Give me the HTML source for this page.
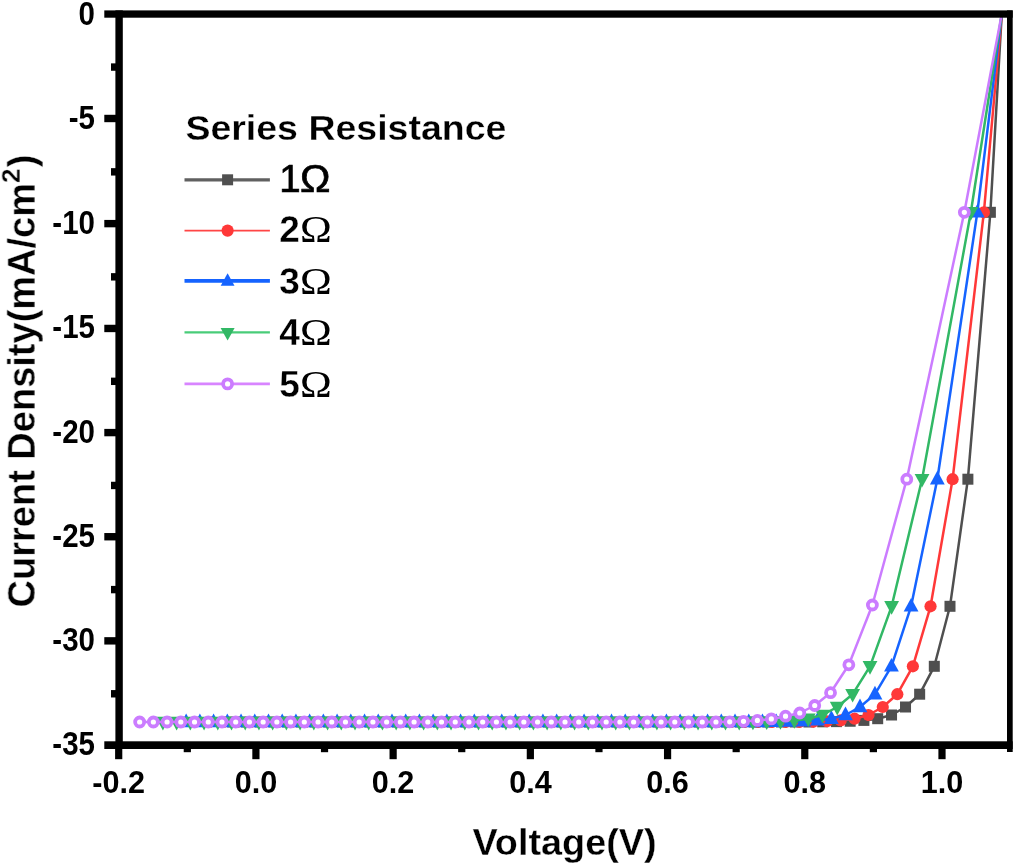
<!DOCTYPE html>
<html lang="en"><head><meta charset="utf-8"><title>J-V curves: Series Resistance</title>
<style>
html,body{margin:0;padding:0;background:#fff;}
body{width:1014px;height:865px;overflow:hidden;}
svg{display:block;}
text{font-family:"Liberation Sans",Arial,Helvetica,sans-serif;font-weight:bold;fill:#000;stroke:#fff;stroke-width:0.3px;}
.tk{font-size:29.5px;stroke:none;}
.big{font-size:37.5px;}
.leg{font-size:37px;}
.om{font-family:"Liberation Serif","Times New Roman",serif;font-weight:normal;font-size:37.5px;stroke:none;}
.reg{font-weight:normal;stroke:#000;stroke-width:0.7px;font-size:38.5px;}
</style></head><body>
<svg width="1014" height="865" viewBox="0 0 1014 865">
<rect width="1014" height="865" fill="#fff"/>
<defs><clipPath id="cp"><rect x="119" y="14" width="892" height="731"/></clipPath>
<filter id="soft" x="0" y="0" width="1014" height="865" filterUnits="userSpaceOnUse"><feGaussianBlur stdDeviation="0.65"/></filter></defs>
<g filter="url(#soft)">
<g clip-path="url(#cp)">
<polyline points="232.66,722.00 246.38,722.00 260.11,722.00 273.83,722.00 287.55,722.00 301.27,722.00 314.99,722.00 328.71,722.00 342.44,722.00 356.16,722.00 369.88,722.00 383.60,722.00 397.32,722.00 411.04,722.00 424.77,722.00 438.49,722.00 452.21,722.00 465.93,722.00 479.65,722.00 493.37,722.00 507.10,722.00 520.82,722.00 534.54,722.00 548.26,722.00 561.98,722.00 575.70,722.00 589.43,722.00 603.15,722.00 616.87,722.00 630.59,722.00 644.31,722.00 658.03,722.00 671.76,722.00 685.48,722.00 699.20,722.00 712.92,722.00 726.64,722.00 740.36,722.00 754.09,722.00 767.81,722.00 781.53,722.00 795.25,722.00 808.97,722.00 822.70,721.83 836.43,721.64 850.16,721.24 863.91,720.40 877.69,718.70 891.53,715.00 905.52,707.00 919.66,694.20 934.30,666.30 949.99,606.30 967.89,479.20 990.37,212.30 1022.50,-348.00" fill="none" stroke="#4f4f4f" stroke-width="2.5" stroke-linejoin="round"/>
<rect x="227.16" y="716.50" width="11" height="11" fill="#4f4f4f"/>
<rect x="240.88" y="716.50" width="11" height="11" fill="#4f4f4f"/>
<rect x="254.61" y="716.50" width="11" height="11" fill="#4f4f4f"/>
<rect x="268.33" y="716.50" width="11" height="11" fill="#4f4f4f"/>
<rect x="282.05" y="716.50" width="11" height="11" fill="#4f4f4f"/>
<rect x="295.77" y="716.50" width="11" height="11" fill="#4f4f4f"/>
<rect x="309.49" y="716.50" width="11" height="11" fill="#4f4f4f"/>
<rect x="323.21" y="716.50" width="11" height="11" fill="#4f4f4f"/>
<rect x="336.94" y="716.50" width="11" height="11" fill="#4f4f4f"/>
<rect x="350.66" y="716.50" width="11" height="11" fill="#4f4f4f"/>
<rect x="364.38" y="716.50" width="11" height="11" fill="#4f4f4f"/>
<rect x="378.10" y="716.50" width="11" height="11" fill="#4f4f4f"/>
<rect x="391.82" y="716.50" width="11" height="11" fill="#4f4f4f"/>
<rect x="405.54" y="716.50" width="11" height="11" fill="#4f4f4f"/>
<rect x="419.27" y="716.50" width="11" height="11" fill="#4f4f4f"/>
<rect x="432.99" y="716.50" width="11" height="11" fill="#4f4f4f"/>
<rect x="446.71" y="716.50" width="11" height="11" fill="#4f4f4f"/>
<rect x="460.43" y="716.50" width="11" height="11" fill="#4f4f4f"/>
<rect x="474.15" y="716.50" width="11" height="11" fill="#4f4f4f"/>
<rect x="487.87" y="716.50" width="11" height="11" fill="#4f4f4f"/>
<rect x="501.60" y="716.50" width="11" height="11" fill="#4f4f4f"/>
<rect x="515.32" y="716.50" width="11" height="11" fill="#4f4f4f"/>
<rect x="529.04" y="716.50" width="11" height="11" fill="#4f4f4f"/>
<rect x="542.76" y="716.50" width="11" height="11" fill="#4f4f4f"/>
<rect x="556.48" y="716.50" width="11" height="11" fill="#4f4f4f"/>
<rect x="570.20" y="716.50" width="11" height="11" fill="#4f4f4f"/>
<rect x="583.93" y="716.50" width="11" height="11" fill="#4f4f4f"/>
<rect x="597.65" y="716.50" width="11" height="11" fill="#4f4f4f"/>
<rect x="611.37" y="716.50" width="11" height="11" fill="#4f4f4f"/>
<rect x="625.09" y="716.50" width="11" height="11" fill="#4f4f4f"/>
<rect x="638.81" y="716.50" width="11" height="11" fill="#4f4f4f"/>
<rect x="652.53" y="716.50" width="11" height="11" fill="#4f4f4f"/>
<rect x="666.26" y="716.50" width="11" height="11" fill="#4f4f4f"/>
<rect x="679.98" y="716.50" width="11" height="11" fill="#4f4f4f"/>
<rect x="693.70" y="716.50" width="11" height="11" fill="#4f4f4f"/>
<rect x="707.42" y="716.50" width="11" height="11" fill="#4f4f4f"/>
<rect x="721.14" y="716.50" width="11" height="11" fill="#4f4f4f"/>
<rect x="734.86" y="716.50" width="11" height="11" fill="#4f4f4f"/>
<rect x="748.59" y="716.50" width="11" height="11" fill="#4f4f4f"/>
<rect x="762.31" y="716.50" width="11" height="11" fill="#4f4f4f"/>
<rect x="776.03" y="716.50" width="11" height="11" fill="#4f4f4f"/>
<rect x="789.75" y="716.50" width="11" height="11" fill="#4f4f4f"/>
<rect x="803.47" y="716.50" width="11" height="11" fill="#4f4f4f"/>
<rect x="817.20" y="716.33" width="11" height="11" fill="#4f4f4f"/>
<rect x="830.93" y="716.14" width="11" height="11" fill="#4f4f4f"/>
<rect x="844.66" y="715.74" width="11" height="11" fill="#4f4f4f"/>
<rect x="858.41" y="714.90" width="11" height="11" fill="#4f4f4f"/>
<rect x="872.19" y="713.20" width="11" height="11" fill="#4f4f4f"/>
<rect x="886.03" y="709.50" width="11" height="11" fill="#4f4f4f"/>
<rect x="900.02" y="701.50" width="11" height="11" fill="#4f4f4f"/>
<rect x="914.16" y="688.70" width="11" height="11" fill="#4f4f4f"/>
<rect x="928.80" y="660.80" width="11" height="11" fill="#4f4f4f"/>
<rect x="944.49" y="600.80" width="11" height="11" fill="#4f4f4f"/>
<rect x="962.39" y="473.70" width="11" height="11" fill="#4f4f4f"/>
<rect x="984.87" y="206.80" width="11" height="11" fill="#4f4f4f"/>
<polyline points="209.41,722.00 223.13,722.00 236.85,722.00 250.57,722.00 264.30,722.00 278.02,722.00 291.74,722.00 305.46,722.00 319.18,722.00 332.90,722.00 346.63,722.00 360.35,722.00 374.07,722.00 387.79,722.00 401.51,722.00 415.23,722.00 428.96,722.00 442.68,722.00 456.40,722.00 470.12,722.00 483.84,722.00 497.56,722.00 511.29,722.00 525.01,722.00 538.73,722.00 552.45,722.00 566.17,722.00 579.89,722.00 593.62,722.00 607.34,722.00 621.06,722.00 634.78,722.00 648.50,722.00 662.22,722.00 675.95,722.00 689.67,722.00 703.39,722.00 717.11,722.00 730.83,722.00 744.55,722.00 758.28,722.00 772.00,722.00 785.72,722.00 799.45,721.83 813.19,721.64 826.93,721.24 840.71,720.40 854.54,718.70 868.51,715.00 882.76,707.00 897.32,694.20 912.87,666.30 930.54,606.30 952.61,479.20 983.86,212.30 1034.39,-348.00" fill="none" stroke="#ff3838" stroke-width="2.5" stroke-linejoin="round"/>
<circle cx="209.41" cy="722.00" r="6.1" fill="#ff3838"/>
<circle cx="223.13" cy="722.00" r="6.1" fill="#ff3838"/>
<circle cx="236.85" cy="722.00" r="6.1" fill="#ff3838"/>
<circle cx="250.57" cy="722.00" r="6.1" fill="#ff3838"/>
<circle cx="264.30" cy="722.00" r="6.1" fill="#ff3838"/>
<circle cx="278.02" cy="722.00" r="6.1" fill="#ff3838"/>
<circle cx="291.74" cy="722.00" r="6.1" fill="#ff3838"/>
<circle cx="305.46" cy="722.00" r="6.1" fill="#ff3838"/>
<circle cx="319.18" cy="722.00" r="6.1" fill="#ff3838"/>
<circle cx="332.90" cy="722.00" r="6.1" fill="#ff3838"/>
<circle cx="346.63" cy="722.00" r="6.1" fill="#ff3838"/>
<circle cx="360.35" cy="722.00" r="6.1" fill="#ff3838"/>
<circle cx="374.07" cy="722.00" r="6.1" fill="#ff3838"/>
<circle cx="387.79" cy="722.00" r="6.1" fill="#ff3838"/>
<circle cx="401.51" cy="722.00" r="6.1" fill="#ff3838"/>
<circle cx="415.23" cy="722.00" r="6.1" fill="#ff3838"/>
<circle cx="428.96" cy="722.00" r="6.1" fill="#ff3838"/>
<circle cx="442.68" cy="722.00" r="6.1" fill="#ff3838"/>
<circle cx="456.40" cy="722.00" r="6.1" fill="#ff3838"/>
<circle cx="470.12" cy="722.00" r="6.1" fill="#ff3838"/>
<circle cx="483.84" cy="722.00" r="6.1" fill="#ff3838"/>
<circle cx="497.56" cy="722.00" r="6.1" fill="#ff3838"/>
<circle cx="511.29" cy="722.00" r="6.1" fill="#ff3838"/>
<circle cx="525.01" cy="722.00" r="6.1" fill="#ff3838"/>
<circle cx="538.73" cy="722.00" r="6.1" fill="#ff3838"/>
<circle cx="552.45" cy="722.00" r="6.1" fill="#ff3838"/>
<circle cx="566.17" cy="722.00" r="6.1" fill="#ff3838"/>
<circle cx="579.89" cy="722.00" r="6.1" fill="#ff3838"/>
<circle cx="593.62" cy="722.00" r="6.1" fill="#ff3838"/>
<circle cx="607.34" cy="722.00" r="6.1" fill="#ff3838"/>
<circle cx="621.06" cy="722.00" r="6.1" fill="#ff3838"/>
<circle cx="634.78" cy="722.00" r="6.1" fill="#ff3838"/>
<circle cx="648.50" cy="722.00" r="6.1" fill="#ff3838"/>
<circle cx="662.22" cy="722.00" r="6.1" fill="#ff3838"/>
<circle cx="675.95" cy="722.00" r="6.1" fill="#ff3838"/>
<circle cx="689.67" cy="722.00" r="6.1" fill="#ff3838"/>
<circle cx="703.39" cy="722.00" r="6.1" fill="#ff3838"/>
<circle cx="717.11" cy="722.00" r="6.1" fill="#ff3838"/>
<circle cx="730.83" cy="722.00" r="6.1" fill="#ff3838"/>
<circle cx="744.55" cy="722.00" r="6.1" fill="#ff3838"/>
<circle cx="758.28" cy="722.00" r="6.1" fill="#ff3838"/>
<circle cx="772.00" cy="722.00" r="6.1" fill="#ff3838"/>
<circle cx="785.72" cy="722.00" r="6.1" fill="#ff3838"/>
<circle cx="799.45" cy="721.83" r="6.1" fill="#ff3838"/>
<circle cx="813.19" cy="721.64" r="6.1" fill="#ff3838"/>
<circle cx="826.93" cy="721.24" r="6.1" fill="#ff3838"/>
<circle cx="840.71" cy="720.40" r="6.1" fill="#ff3838"/>
<circle cx="854.54" cy="718.70" r="6.1" fill="#ff3838"/>
<circle cx="868.51" cy="715.00" r="6.1" fill="#ff3838"/>
<circle cx="882.76" cy="707.00" r="6.1" fill="#ff3838"/>
<circle cx="897.32" cy="694.20" r="6.1" fill="#ff3838"/>
<circle cx="912.87" cy="666.30" r="6.1" fill="#ff3838"/>
<circle cx="930.54" cy="606.30" r="6.1" fill="#ff3838"/>
<circle cx="952.61" cy="479.20" r="6.1" fill="#ff3838"/>
<circle cx="983.86" cy="212.30" r="6.1" fill="#ff3838"/>
<polyline points="186.15,722.00 199.88,722.00 213.60,722.00 227.32,722.00 241.04,722.00 254.76,722.00 268.48,722.00 282.21,722.00 295.93,722.00 309.65,722.00 323.37,722.00 337.09,722.00 350.81,722.00 364.54,722.00 378.26,722.00 391.98,722.00 405.70,722.00 419.42,722.00 433.14,722.00 446.87,722.00 460.59,722.00 474.31,722.00 488.03,722.00 501.75,722.00 515.47,722.00 529.20,722.00 542.92,722.00 556.64,722.00 570.36,722.00 584.08,722.00 597.80,722.00 611.53,722.00 625.25,722.00 638.97,722.00 652.69,722.00 666.41,722.00 680.13,722.00 693.86,722.00 707.58,722.00 721.30,722.00 735.02,722.00 748.74,722.00 762.46,722.00 776.20,721.83 789.94,721.64 803.70,721.24 817.51,720.40 831.40,718.70 845.48,715.00 859.99,707.00 874.98,694.20 891.45,666.30 911.08,606.30 937.33,479.20 977.35,212.30 1046.29,-348.00" fill="none" stroke="#1464ff" stroke-width="2.5" stroke-linejoin="round"/>
<polygon points="178.75,727.20 193.55,727.20 186.15,713.60" fill="#1464ff"/>
<polygon points="192.48,727.20 207.28,727.20 199.88,713.60" fill="#1464ff"/>
<polygon points="206.20,727.20 221.00,727.20 213.60,713.60" fill="#1464ff"/>
<polygon points="219.92,727.20 234.72,727.20 227.32,713.60" fill="#1464ff"/>
<polygon points="233.64,727.20 248.44,727.20 241.04,713.60" fill="#1464ff"/>
<polygon points="247.36,727.20 262.16,727.20 254.76,713.60" fill="#1464ff"/>
<polygon points="261.08,727.20 275.88,727.20 268.48,713.60" fill="#1464ff"/>
<polygon points="274.81,727.20 289.61,727.20 282.21,713.60" fill="#1464ff"/>
<polygon points="288.53,727.20 303.33,727.20 295.93,713.60" fill="#1464ff"/>
<polygon points="302.25,727.20 317.05,727.20 309.65,713.60" fill="#1464ff"/>
<polygon points="315.97,727.20 330.77,727.20 323.37,713.60" fill="#1464ff"/>
<polygon points="329.69,727.20 344.49,727.20 337.09,713.60" fill="#1464ff"/>
<polygon points="343.41,727.20 358.21,727.20 350.81,713.60" fill="#1464ff"/>
<polygon points="357.14,727.20 371.94,727.20 364.54,713.60" fill="#1464ff"/>
<polygon points="370.86,727.20 385.66,727.20 378.26,713.60" fill="#1464ff"/>
<polygon points="384.58,727.20 399.38,727.20 391.98,713.60" fill="#1464ff"/>
<polygon points="398.30,727.20 413.10,727.20 405.70,713.60" fill="#1464ff"/>
<polygon points="412.02,727.20 426.82,727.20 419.42,713.60" fill="#1464ff"/>
<polygon points="425.74,727.20 440.54,727.20 433.14,713.60" fill="#1464ff"/>
<polygon points="439.47,727.20 454.27,727.20 446.87,713.60" fill="#1464ff"/>
<polygon points="453.19,727.20 467.99,727.20 460.59,713.60" fill="#1464ff"/>
<polygon points="466.91,727.20 481.71,727.20 474.31,713.60" fill="#1464ff"/>
<polygon points="480.63,727.20 495.43,727.20 488.03,713.60" fill="#1464ff"/>
<polygon points="494.35,727.20 509.15,727.20 501.75,713.60" fill="#1464ff"/>
<polygon points="508.07,727.20 522.87,727.20 515.47,713.60" fill="#1464ff"/>
<polygon points="521.80,727.20 536.60,727.20 529.20,713.60" fill="#1464ff"/>
<polygon points="535.52,727.20 550.32,727.20 542.92,713.60" fill="#1464ff"/>
<polygon points="549.24,727.20 564.04,727.20 556.64,713.60" fill="#1464ff"/>
<polygon points="562.96,727.20 577.76,727.20 570.36,713.60" fill="#1464ff"/>
<polygon points="576.68,727.20 591.48,727.20 584.08,713.60" fill="#1464ff"/>
<polygon points="590.40,727.20 605.20,727.20 597.80,713.60" fill="#1464ff"/>
<polygon points="604.13,727.20 618.93,727.20 611.53,713.60" fill="#1464ff"/>
<polygon points="617.85,727.20 632.65,727.20 625.25,713.60" fill="#1464ff"/>
<polygon points="631.57,727.20 646.37,727.20 638.97,713.60" fill="#1464ff"/>
<polygon points="645.29,727.20 660.09,727.20 652.69,713.60" fill="#1464ff"/>
<polygon points="659.01,727.20 673.81,727.20 666.41,713.60" fill="#1464ff"/>
<polygon points="672.73,727.20 687.53,727.20 680.13,713.60" fill="#1464ff"/>
<polygon points="686.46,727.20 701.26,727.20 693.86,713.60" fill="#1464ff"/>
<polygon points="700.18,727.20 714.98,727.20 707.58,713.60" fill="#1464ff"/>
<polygon points="713.90,727.20 728.70,727.20 721.30,713.60" fill="#1464ff"/>
<polygon points="727.62,727.20 742.42,727.20 735.02,713.60" fill="#1464ff"/>
<polygon points="741.34,727.20 756.14,727.20 748.74,713.60" fill="#1464ff"/>
<polygon points="755.06,727.20 769.86,727.20 762.46,713.60" fill="#1464ff"/>
<polygon points="768.80,727.03 783.60,727.03 776.20,713.43" fill="#1464ff"/>
<polygon points="782.54,726.84 797.34,726.84 789.94,713.24" fill="#1464ff"/>
<polygon points="796.30,726.44 811.10,726.44 803.70,712.84" fill="#1464ff"/>
<polygon points="810.11,725.60 824.91,725.60 817.51,712.00" fill="#1464ff"/>
<polygon points="824.00,723.90 838.80,723.90 831.40,710.30" fill="#1464ff"/>
<polygon points="838.08,720.20 852.88,720.20 845.48,706.60" fill="#1464ff"/>
<polygon points="852.59,712.20 867.39,712.20 859.99,698.60" fill="#1464ff"/>
<polygon points="867.58,699.40 882.38,699.40 874.98,685.80" fill="#1464ff"/>
<polygon points="884.05,671.50 898.85,671.50 891.45,657.90" fill="#1464ff"/>
<polygon points="903.68,611.50 918.48,611.50 911.08,597.90" fill="#1464ff"/>
<polygon points="929.93,484.40 944.73,484.40 937.33,470.80" fill="#1464ff"/>
<polygon points="969.95,217.50 984.75,217.50 977.35,203.90" fill="#1464ff"/>
<polyline points="162.90,722.00 176.62,722.00 190.34,722.00 204.07,722.00 217.79,722.00 231.51,722.00 245.23,722.00 258.95,722.00 272.67,722.00 286.40,722.00 300.12,722.00 313.84,722.00 327.56,722.00 341.28,722.00 355.00,722.00 368.73,722.00 382.45,722.00 396.17,722.00 409.89,722.00 423.61,722.00 437.33,722.00 451.06,722.00 464.78,722.00 478.50,722.00 492.22,722.00 505.94,722.00 519.66,722.00 533.39,722.00 547.11,722.00 560.83,722.00 574.55,722.00 588.27,722.00 601.99,722.00 615.72,722.00 629.44,722.00 643.16,722.00 656.88,722.00 670.60,722.00 684.32,722.00 698.05,722.00 711.77,722.00 725.49,722.00 739.21,722.00 752.95,721.83 766.70,721.64 780.47,721.24 794.31,720.40 808.25,718.70 822.46,715.00 837.23,707.00 852.64,694.20 870.02,666.30 891.63,606.30 922.05,479.20 970.84,212.30 1058.18,-348.00" fill="none" stroke="#30b865" stroke-width="2.5" stroke-linejoin="round"/>
<polygon points="155.50,716.80 170.30,716.80 162.90,730.40" fill="#30b865"/>
<polygon points="169.22,716.80 184.02,716.80 176.62,730.40" fill="#30b865"/>
<polygon points="182.94,716.80 197.74,716.80 190.34,730.40" fill="#30b865"/>
<polygon points="196.67,716.80 211.47,716.80 204.07,730.40" fill="#30b865"/>
<polygon points="210.39,716.80 225.19,716.80 217.79,730.40" fill="#30b865"/>
<polygon points="224.11,716.80 238.91,716.80 231.51,730.40" fill="#30b865"/>
<polygon points="237.83,716.80 252.63,716.80 245.23,730.40" fill="#30b865"/>
<polygon points="251.55,716.80 266.35,716.80 258.95,730.40" fill="#30b865"/>
<polygon points="265.27,716.80 280.07,716.80 272.67,730.40" fill="#30b865"/>
<polygon points="279.00,716.80 293.80,716.80 286.40,730.40" fill="#30b865"/>
<polygon points="292.72,716.80 307.52,716.80 300.12,730.40" fill="#30b865"/>
<polygon points="306.44,716.80 321.24,716.80 313.84,730.40" fill="#30b865"/>
<polygon points="320.16,716.80 334.96,716.80 327.56,730.40" fill="#30b865"/>
<polygon points="333.88,716.80 348.68,716.80 341.28,730.40" fill="#30b865"/>
<polygon points="347.60,716.80 362.40,716.80 355.00,730.40" fill="#30b865"/>
<polygon points="361.33,716.80 376.13,716.80 368.73,730.40" fill="#30b865"/>
<polygon points="375.05,716.80 389.85,716.80 382.45,730.40" fill="#30b865"/>
<polygon points="388.77,716.80 403.57,716.80 396.17,730.40" fill="#30b865"/>
<polygon points="402.49,716.80 417.29,716.80 409.89,730.40" fill="#30b865"/>
<polygon points="416.21,716.80 431.01,716.80 423.61,730.40" fill="#30b865"/>
<polygon points="429.93,716.80 444.73,716.80 437.33,730.40" fill="#30b865"/>
<polygon points="443.66,716.80 458.46,716.80 451.06,730.40" fill="#30b865"/>
<polygon points="457.38,716.80 472.18,716.80 464.78,730.40" fill="#30b865"/>
<polygon points="471.10,716.80 485.90,716.80 478.50,730.40" fill="#30b865"/>
<polygon points="484.82,716.80 499.62,716.80 492.22,730.40" fill="#30b865"/>
<polygon points="498.54,716.80 513.34,716.80 505.94,730.40" fill="#30b865"/>
<polygon points="512.26,716.80 527.06,716.80 519.66,730.40" fill="#30b865"/>
<polygon points="525.99,716.80 540.79,716.80 533.39,730.40" fill="#30b865"/>
<polygon points="539.71,716.80 554.51,716.80 547.11,730.40" fill="#30b865"/>
<polygon points="553.43,716.80 568.23,716.80 560.83,730.40" fill="#30b865"/>
<polygon points="567.15,716.80 581.95,716.80 574.55,730.40" fill="#30b865"/>
<polygon points="580.87,716.80 595.67,716.80 588.27,730.40" fill="#30b865"/>
<polygon points="594.59,716.80 609.39,716.80 601.99,730.40" fill="#30b865"/>
<polygon points="608.32,716.80 623.12,716.80 615.72,730.40" fill="#30b865"/>
<polygon points="622.04,716.80 636.84,716.80 629.44,730.40" fill="#30b865"/>
<polygon points="635.76,716.80 650.56,716.80 643.16,730.40" fill="#30b865"/>
<polygon points="649.48,716.80 664.28,716.80 656.88,730.40" fill="#30b865"/>
<polygon points="663.20,716.80 678.00,716.80 670.60,730.40" fill="#30b865"/>
<polygon points="676.92,716.80 691.72,716.80 684.32,730.40" fill="#30b865"/>
<polygon points="690.65,716.80 705.45,716.80 698.05,730.40" fill="#30b865"/>
<polygon points="704.37,716.80 719.17,716.80 711.77,730.40" fill="#30b865"/>
<polygon points="718.09,716.80 732.89,716.80 725.49,730.40" fill="#30b865"/>
<polygon points="731.81,716.80 746.61,716.80 739.21,730.40" fill="#30b865"/>
<polygon points="745.55,716.63 760.35,716.63 752.95,730.23" fill="#30b865"/>
<polygon points="759.30,716.44 774.10,716.44 766.70,730.04" fill="#30b865"/>
<polygon points="773.07,716.04 787.87,716.04 780.47,729.64" fill="#30b865"/>
<polygon points="786.91,715.20 801.71,715.20 794.31,728.80" fill="#30b865"/>
<polygon points="800.85,713.50 815.65,713.50 808.25,727.10" fill="#30b865"/>
<polygon points="815.06,709.80 829.86,709.80 822.46,723.40" fill="#30b865"/>
<polygon points="829.83,701.80 844.63,701.80 837.23,715.40" fill="#30b865"/>
<polygon points="845.24,689.00 860.04,689.00 852.64,702.60" fill="#30b865"/>
<polygon points="862.62,661.10 877.42,661.10 870.02,674.70" fill="#30b865"/>
<polygon points="884.23,601.10 899.03,601.10 891.63,614.70" fill="#30b865"/>
<polygon points="914.65,474.00 929.45,474.00 922.05,487.60" fill="#30b865"/>
<polygon points="963.44,207.10 978.24,207.10 970.84,220.70" fill="#30b865"/>
<polyline points="139.65,722.00 153.37,722.00 167.09,722.00 180.81,722.00 194.53,722.00 208.25,722.00 221.98,722.00 235.70,722.00 249.42,722.00 263.14,722.00 276.86,722.00 290.58,722.00 304.31,722.00 318.03,722.00 331.75,722.00 345.47,722.00 359.19,722.00 372.91,722.00 386.64,722.00 400.36,722.00 414.08,722.00 427.80,722.00 441.52,722.00 455.24,722.00 468.97,722.00 482.69,722.00 496.41,722.00 510.13,722.00 523.85,722.00 537.57,722.00 551.30,722.00 565.02,722.00 578.74,722.00 592.46,722.00 606.18,722.00 619.90,722.00 633.63,722.00 647.35,722.00 661.07,722.00 674.79,722.00 688.51,722.00 702.23,722.00 715.96,722.00 729.71,721.83 743.51,721.34 757.38,720.44 771.35,718.90 785.52,716.20 799.76,713.00 814.72,705.50 830.54,692.70 848.85,664.80 872.39,605.00 906.77,479.20 964.33,212.30 1070.07,-348.00" fill="none" stroke="#cb7cff" stroke-width="2.5" stroke-linejoin="round"/>
<circle cx="139.65" cy="722.00" r="4.5" fill="#fff" stroke="#cb7cff" stroke-width="3.8"/>
<circle cx="153.37" cy="722.00" r="4.5" fill="#fff" stroke="#cb7cff" stroke-width="3.8"/>
<circle cx="167.09" cy="722.00" r="4.5" fill="#fff" stroke="#cb7cff" stroke-width="3.8"/>
<circle cx="180.81" cy="722.00" r="4.5" fill="#fff" stroke="#cb7cff" stroke-width="3.8"/>
<circle cx="194.53" cy="722.00" r="4.5" fill="#fff" stroke="#cb7cff" stroke-width="3.8"/>
<circle cx="208.25" cy="722.00" r="4.5" fill="#fff" stroke="#cb7cff" stroke-width="3.8"/>
<circle cx="221.98" cy="722.00" r="4.5" fill="#fff" stroke="#cb7cff" stroke-width="3.8"/>
<circle cx="235.70" cy="722.00" r="4.5" fill="#fff" stroke="#cb7cff" stroke-width="3.8"/>
<circle cx="249.42" cy="722.00" r="4.5" fill="#fff" stroke="#cb7cff" stroke-width="3.8"/>
<circle cx="263.14" cy="722.00" r="4.5" fill="#fff" stroke="#cb7cff" stroke-width="3.8"/>
<circle cx="276.86" cy="722.00" r="4.5" fill="#fff" stroke="#cb7cff" stroke-width="3.8"/>
<circle cx="290.58" cy="722.00" r="4.5" fill="#fff" stroke="#cb7cff" stroke-width="3.8"/>
<circle cx="304.31" cy="722.00" r="4.5" fill="#fff" stroke="#cb7cff" stroke-width="3.8"/>
<circle cx="318.03" cy="722.00" r="4.5" fill="#fff" stroke="#cb7cff" stroke-width="3.8"/>
<circle cx="331.75" cy="722.00" r="4.5" fill="#fff" stroke="#cb7cff" stroke-width="3.8"/>
<circle cx="345.47" cy="722.00" r="4.5" fill="#fff" stroke="#cb7cff" stroke-width="3.8"/>
<circle cx="359.19" cy="722.00" r="4.5" fill="#fff" stroke="#cb7cff" stroke-width="3.8"/>
<circle cx="372.91" cy="722.00" r="4.5" fill="#fff" stroke="#cb7cff" stroke-width="3.8"/>
<circle cx="386.64" cy="722.00" r="4.5" fill="#fff" stroke="#cb7cff" stroke-width="3.8"/>
<circle cx="400.36" cy="722.00" r="4.5" fill="#fff" stroke="#cb7cff" stroke-width="3.8"/>
<circle cx="414.08" cy="722.00" r="4.5" fill="#fff" stroke="#cb7cff" stroke-width="3.8"/>
<circle cx="427.80" cy="722.00" r="4.5" fill="#fff" stroke="#cb7cff" stroke-width="3.8"/>
<circle cx="441.52" cy="722.00" r="4.5" fill="#fff" stroke="#cb7cff" stroke-width="3.8"/>
<circle cx="455.24" cy="722.00" r="4.5" fill="#fff" stroke="#cb7cff" stroke-width="3.8"/>
<circle cx="468.97" cy="722.00" r="4.5" fill="#fff" stroke="#cb7cff" stroke-width="3.8"/>
<circle cx="482.69" cy="722.00" r="4.5" fill="#fff" stroke="#cb7cff" stroke-width="3.8"/>
<circle cx="496.41" cy="722.00" r="4.5" fill="#fff" stroke="#cb7cff" stroke-width="3.8"/>
<circle cx="510.13" cy="722.00" r="4.5" fill="#fff" stroke="#cb7cff" stroke-width="3.8"/>
<circle cx="523.85" cy="722.00" r="4.5" fill="#fff" stroke="#cb7cff" stroke-width="3.8"/>
<circle cx="537.57" cy="722.00" r="4.5" fill="#fff" stroke="#cb7cff" stroke-width="3.8"/>
<circle cx="551.30" cy="722.00" r="4.5" fill="#fff" stroke="#cb7cff" stroke-width="3.8"/>
<circle cx="565.02" cy="722.00" r="4.5" fill="#fff" stroke="#cb7cff" stroke-width="3.8"/>
<circle cx="578.74" cy="722.00" r="4.5" fill="#fff" stroke="#cb7cff" stroke-width="3.8"/>
<circle cx="592.46" cy="722.00" r="4.5" fill="#fff" stroke="#cb7cff" stroke-width="3.8"/>
<circle cx="606.18" cy="722.00" r="4.5" fill="#fff" stroke="#cb7cff" stroke-width="3.8"/>
<circle cx="619.90" cy="722.00" r="4.5" fill="#fff" stroke="#cb7cff" stroke-width="3.8"/>
<circle cx="633.63" cy="722.00" r="4.5" fill="#fff" stroke="#cb7cff" stroke-width="3.8"/>
<circle cx="647.35" cy="722.00" r="4.5" fill="#fff" stroke="#cb7cff" stroke-width="3.8"/>
<circle cx="661.07" cy="722.00" r="4.5" fill="#fff" stroke="#cb7cff" stroke-width="3.8"/>
<circle cx="674.79" cy="722.00" r="4.5" fill="#fff" stroke="#cb7cff" stroke-width="3.8"/>
<circle cx="688.51" cy="722.00" r="4.5" fill="#fff" stroke="#cb7cff" stroke-width="3.8"/>
<circle cx="702.23" cy="722.00" r="4.5" fill="#fff" stroke="#cb7cff" stroke-width="3.8"/>
<circle cx="715.96" cy="722.00" r="4.5" fill="#fff" stroke="#cb7cff" stroke-width="3.8"/>
<circle cx="729.71" cy="721.83" r="4.5" fill="#fff" stroke="#cb7cff" stroke-width="3.8"/>
<circle cx="743.51" cy="721.34" r="4.5" fill="#fff" stroke="#cb7cff" stroke-width="3.8"/>
<circle cx="757.38" cy="720.44" r="4.5" fill="#fff" stroke="#cb7cff" stroke-width="3.8"/>
<circle cx="771.35" cy="718.90" r="4.5" fill="#fff" stroke="#cb7cff" stroke-width="3.8"/>
<circle cx="785.52" cy="716.20" r="4.5" fill="#fff" stroke="#cb7cff" stroke-width="3.8"/>
<circle cx="799.76" cy="713.00" r="4.5" fill="#fff" stroke="#cb7cff" stroke-width="3.8"/>
<circle cx="814.72" cy="705.50" r="4.5" fill="#fff" stroke="#cb7cff" stroke-width="3.8"/>
<circle cx="830.54" cy="692.70" r="4.5" fill="#fff" stroke="#cb7cff" stroke-width="3.8"/>
<circle cx="848.85" cy="664.80" r="4.5" fill="#fff" stroke="#cb7cff" stroke-width="3.8"/>
<circle cx="872.39" cy="605.00" r="4.5" fill="#fff" stroke="#cb7cff" stroke-width="3.8"/>
<circle cx="906.77" cy="479.20" r="4.5" fill="#fff" stroke="#cb7cff" stroke-width="3.8"/>
<circle cx="964.33" cy="212.30" r="4.5" fill="#fff" stroke="#cb7cff" stroke-width="3.8"/>
</g>
<g fill="#000">
<rect x="115.4" y="10.4" width="7.4" height="738.6"/>
<rect x="104.3" y="741.3" width="908.4" height="7.7"/>
<rect x="104.3" y="10.4" width="908.4" height="7.3"/>
<rect x="1007" y="10.4" width="5.7" height="741.6"/>
<rect x="111" y="63.37" width="5" height="7.4"/>
<rect x="104.3" y="114.79" width="12" height="7.4"/>
<rect x="111" y="168.15" width="5" height="7.4"/>
<rect x="104.3" y="219.92" width="12" height="7.4"/>
<rect x="111" y="273.14" width="5" height="7.4"/>
<rect x="104.3" y="324.76" width="12" height="7.4"/>
<rect x="111" y="377.63" width="5" height="7.4"/>
<rect x="104.3" y="428.89" width="12" height="7.4"/>
<rect x="111" y="481.76" width="5" height="7.4"/>
<rect x="104.3" y="533.03" width="12" height="7.4"/>
<rect x="111" y="585.90" width="5" height="7.4"/>
<rect x="104.3" y="637.16" width="12" height="7.4"/>
<rect x="111" y="690.08" width="5" height="7.4"/>
<rect x="115.10" y="745" width="7.2" height="14.2"/>
<rect x="183.71" y="745" width="7.2" height="7.2"/>
<rect x="252.32" y="745" width="7.2" height="14.2"/>
<rect x="320.93" y="745" width="7.2" height="7.2"/>
<rect x="389.53" y="745" width="7.2" height="14.2"/>
<rect x="458.14" y="745" width="7.2" height="7.2"/>
<rect x="526.75" y="745" width="7.2" height="14.2"/>
<rect x="595.36" y="745" width="7.2" height="7.2"/>
<rect x="663.97" y="745" width="7.2" height="14.2"/>
<rect x="732.58" y="745" width="7.2" height="7.2"/>
<rect x="801.18" y="745" width="7.2" height="14.2"/>
<rect x="869.79" y="745" width="7.2" height="7.2"/>
<rect x="938.40" y="745" width="7.2" height="14.2"/>
</g>
<text class="tk" transform="translate(95,24.8) scale(1,1.12)" text-anchor="end">0</text>
<text class="tk" transform="translate(95,129.2) scale(1,1.12)" text-anchor="end">-5</text>
<text class="tk" transform="translate(95,233.6) scale(1,1.12)" text-anchor="end">-10</text>
<text class="tk" transform="translate(95,338.1) scale(1,1.12)" text-anchor="end">-15</text>
<text class="tk" transform="translate(95,442.5) scale(1,1.12)" text-anchor="end">-20</text>
<text class="tk" transform="translate(95,546.9) scale(1,1.12)" text-anchor="end">-25</text>
<text class="tk" transform="translate(95,651.4) scale(1,1.12)" text-anchor="end">-30</text>
<text class="tk" transform="translate(95,754.6) scale(1,1.12)" text-anchor="end">-35</text>
<text class="tk" style="font-size:30.6px" transform="translate(118.7,793.2) scale(1,1.03)" text-anchor="middle">-0.2</text>
<text class="tk" style="font-size:30.6px" transform="translate(255.9,793.2) scale(1,1.03)" text-anchor="middle">0.0</text>
<text class="tk" style="font-size:30.6px" transform="translate(393.1,793.2) scale(1,1.03)" text-anchor="middle">0.2</text>
<text class="tk" style="font-size:30.6px" transform="translate(530.4,793.2) scale(1,1.03)" text-anchor="middle">0.4</text>
<text class="tk" style="font-size:30.6px" transform="translate(667.6,793.2) scale(1,1.03)" text-anchor="middle">0.6</text>
<text class="tk" style="font-size:30.6px" transform="translate(804.8,793.2) scale(1,1.03)" text-anchor="middle">0.8</text>
<text class="tk" style="font-size:30.6px" transform="translate(942.0,793.2) scale(1,1.03)" text-anchor="middle">1.0</text>
<text class="big" style="font-size:37.8px" x="564.5" y="854.8" text-anchor="middle">Voltage(V)</text>
<text class="big" style="font-size:38px" transform="translate(34.8,381.0) rotate(-90)" text-anchor="middle">Current Density(mA/cm<tspan font-size="26px" dx="0" dy="-15.4">2</tspan><tspan dx="1.3" dy="15.4">)</tspan></text>
<text class="big" transform="translate(185.4,140.2) scale(1,0.96)">Series Resistance</text>
<line x1="184.5" y1="179.8" x2="269.9" y2="179.8" stroke="#606060" stroke-width="3.3"/>
<rect x="222.10" y="174.30" width="11" height="11" fill="#4f4f4f"/>
<text class="leg reg" x="279.2" y="191.9">1</text>
<text class="leg reg" transform="translate(299.9,191.9) scale(1.06,1)">Ω</text>
<line x1="184.5" y1="230.6" x2="269.9" y2="230.6" stroke="#ff4545" stroke-width="1.9"/>
<circle cx="227.60" cy="230.60" r="6.1" fill="#ff3838"/>
<text class="leg" x="279.2" y="242.0">2</text>
<text class="leg om" transform="translate(299.9,242.0) scale(1.14,1.01)">Ω</text>
<line x1="184.5" y1="280.9" x2="269.9" y2="280.9" stroke="#1464ff" stroke-width="3.7"/>
<polygon points="220.70,285.70 234.50,285.70 227.60,273.30" fill="#1464ff"/>
<text class="leg" x="279.2" y="293.6">3</text>
<text class="leg om" transform="translate(299.9,293.6) scale(1.14,1.01)">Ω</text>
<line x1="184.5" y1="332.4" x2="269.9" y2="332.4" stroke="#48cc78" stroke-width="2.3"/>
<polygon points="220.60,328.00 234.60,328.00 227.60,340.40" fill="#30b865"/>
<text class="leg" x="279.2" y="345.1">4</text>
<text class="leg om" transform="translate(299.9,345.1) scale(1.14,1.01)">Ω</text>
<line x1="184.5" y1="383.9" x2="269.9" y2="383.9" stroke="#d884ff" stroke-width="2.7"/>
<circle cx="227.60" cy="383.90" r="4.5" fill="#fff" stroke="#cb7cff" stroke-width="3.8"/>
<text class="leg" x="279.2" y="396.6">5</text>
<text class="leg om" transform="translate(299.9,396.6) scale(1.14,1.01)">Ω</text>
</g></svg></body></html>
